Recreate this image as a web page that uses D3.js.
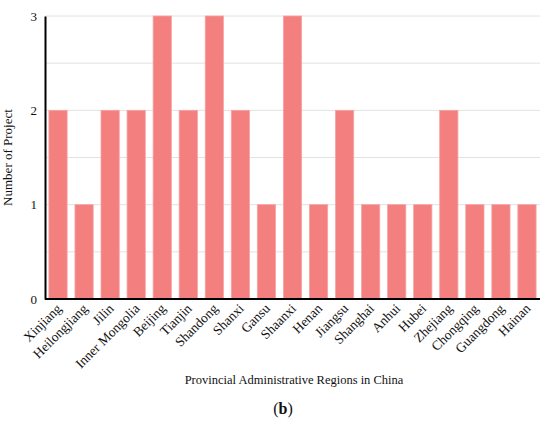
<!DOCTYPE html>
<html>
<head>
<meta charset="utf-8">
<script src="https://cdn.jsdelivr.net/npm/d3@7"></script>
<style>
    body { margin: 0; background: #fff; }
    svg text { font-family: "Liberation Serif", "DejaVu Serif", serif; fill: #111; }
</style>
</head>
<body>
<div id="chart"></div>
<script>
const regions = ["Xinjiang", "Heilongjiang", "Jilin", "Inner Mongolia", "Beijing", "Tianjin",
    "Shandong", "Shanxi", "Gansu", "Shaanxi", "Henan", "Jiangsu", "Shanghai", "Anhui",
    "Hubei", "Zhejiang", "Chongqing", "Guangdong", "Hainan"];
const projects = [2, 1, 2, 2, 3, 2, 3, 2, 1, 3, 1, 2, 1, 1, 1, 2, 1, 1, 1];
const yTicks = [0, 1, 2, 3];
const gridTicks = [0.5, 1, 1.5, 2, 2.5, 3];

const ctx = {
    w: 550, h: 424,
    margin: {top: 16, right: 10, bottom: 125, left: 45},
    barColor: "#f47f7f",
    barStroke: "#f9a3a3"
};

function drawChart() {
    let svgEl = d3.select("#chart").append("svg")
        .attr("width", ctx.w)
        .attr("height", ctx.h);
    let width = ctx.w - ctx.margin.left - ctx.margin.right;
    let height = ctx.h - ctx.margin.top - ctx.margin.bottom;
    let rootG = svgEl.append("g")
        .attr("transform", "translate(" + ctx.margin.left + "," + ctx.margin.top + ")");

    let x = d3.scaleBand()
        .domain(regions)
        .range([0, width])
        .paddingInner(0.3)
        .paddingOuter(0.15);
    let y = d3.scaleLinear()
        .domain([0, 3])
        .range([height, 0]);

    // grid lines
    rootG.append("g")
        .selectAll("line")
        .data(gridTicks)
        .enter()
        .append("line")
        .attr("x1", 0)
        .attr("x2", width)
        .attr("y1", d => y(d))
        .attr("y2", d => y(d))
        .attr("stroke", "#e2e2e2")
        .attr("stroke-width", 1);

    // bars
    rootG.append("g")
        .selectAll("rect")
        .data(regions)
        .enter()
        .append("rect")
        .attr("x", d => x(d))
        .attr("y", (d, i) => y(projects[i]))
        .attr("width", x.bandwidth())
        .attr("height", (d, i) => height - y(projects[i]))
        .attr("fill", ctx.barColor)
        .attr("stroke", ctx.barStroke)
        .attr("stroke-width", 0.8);

    // y axis
    let yAxis = rootG.append("g")
        .call(d3.axisLeft(y).tickValues(yTicks).tickFormat(d3.format("d")).tickSize(0).tickPadding(8));
    yAxis.select(".domain").attr("stroke", "#000").attr("stroke-width", 2);
    yAxis.selectAll("text").style("font-size", "13px").style("font-family", "Liberation Serif, serif");

    // x axis
    let xAxis = rootG.append("g")
        .attr("transform", "translate(0," + height + ")")
        .call(d3.axisBottom(x).tickSize(0).tickPadding(0));
    xAxis.select(".domain").attr("stroke", "#000").attr("stroke-width", 2).attr("d", "M0,0H" + width);
    xAxis.selectAll("text")
        .style("font-size", "13.5px")
        .style("font-family", "Liberation Serif, serif")
        .attr("text-anchor", "end")
        .attr("dy", "0.35em")
        .attr("transform", "translate(1,7) rotate(-45)");

    // axis titles
    rootG.append("text")
        .attr("transform", "translate(-33," + (height / 2) + ") rotate(-90)")
        .attr("text-anchor", "middle")
        .style("font-size", "13px")
        .text("Number of Project");

    svgEl.append("text")
        .attr("x", 294)
        .attr("y", 384)
        .attr("text-anchor", "middle")
        .style("font-size", "12.5px")
        .text("Provincial Administrative Regions in China");

    svgEl.append("text")
        .attr("x", 283)
        .attr("y", 414)
        .attr("text-anchor", "middle")
        .style("font-size", "16px")
        .html("(<tspan font-weight='bold'>b</tspan>)");
}

drawChart();
</script>
</body>
</html>
